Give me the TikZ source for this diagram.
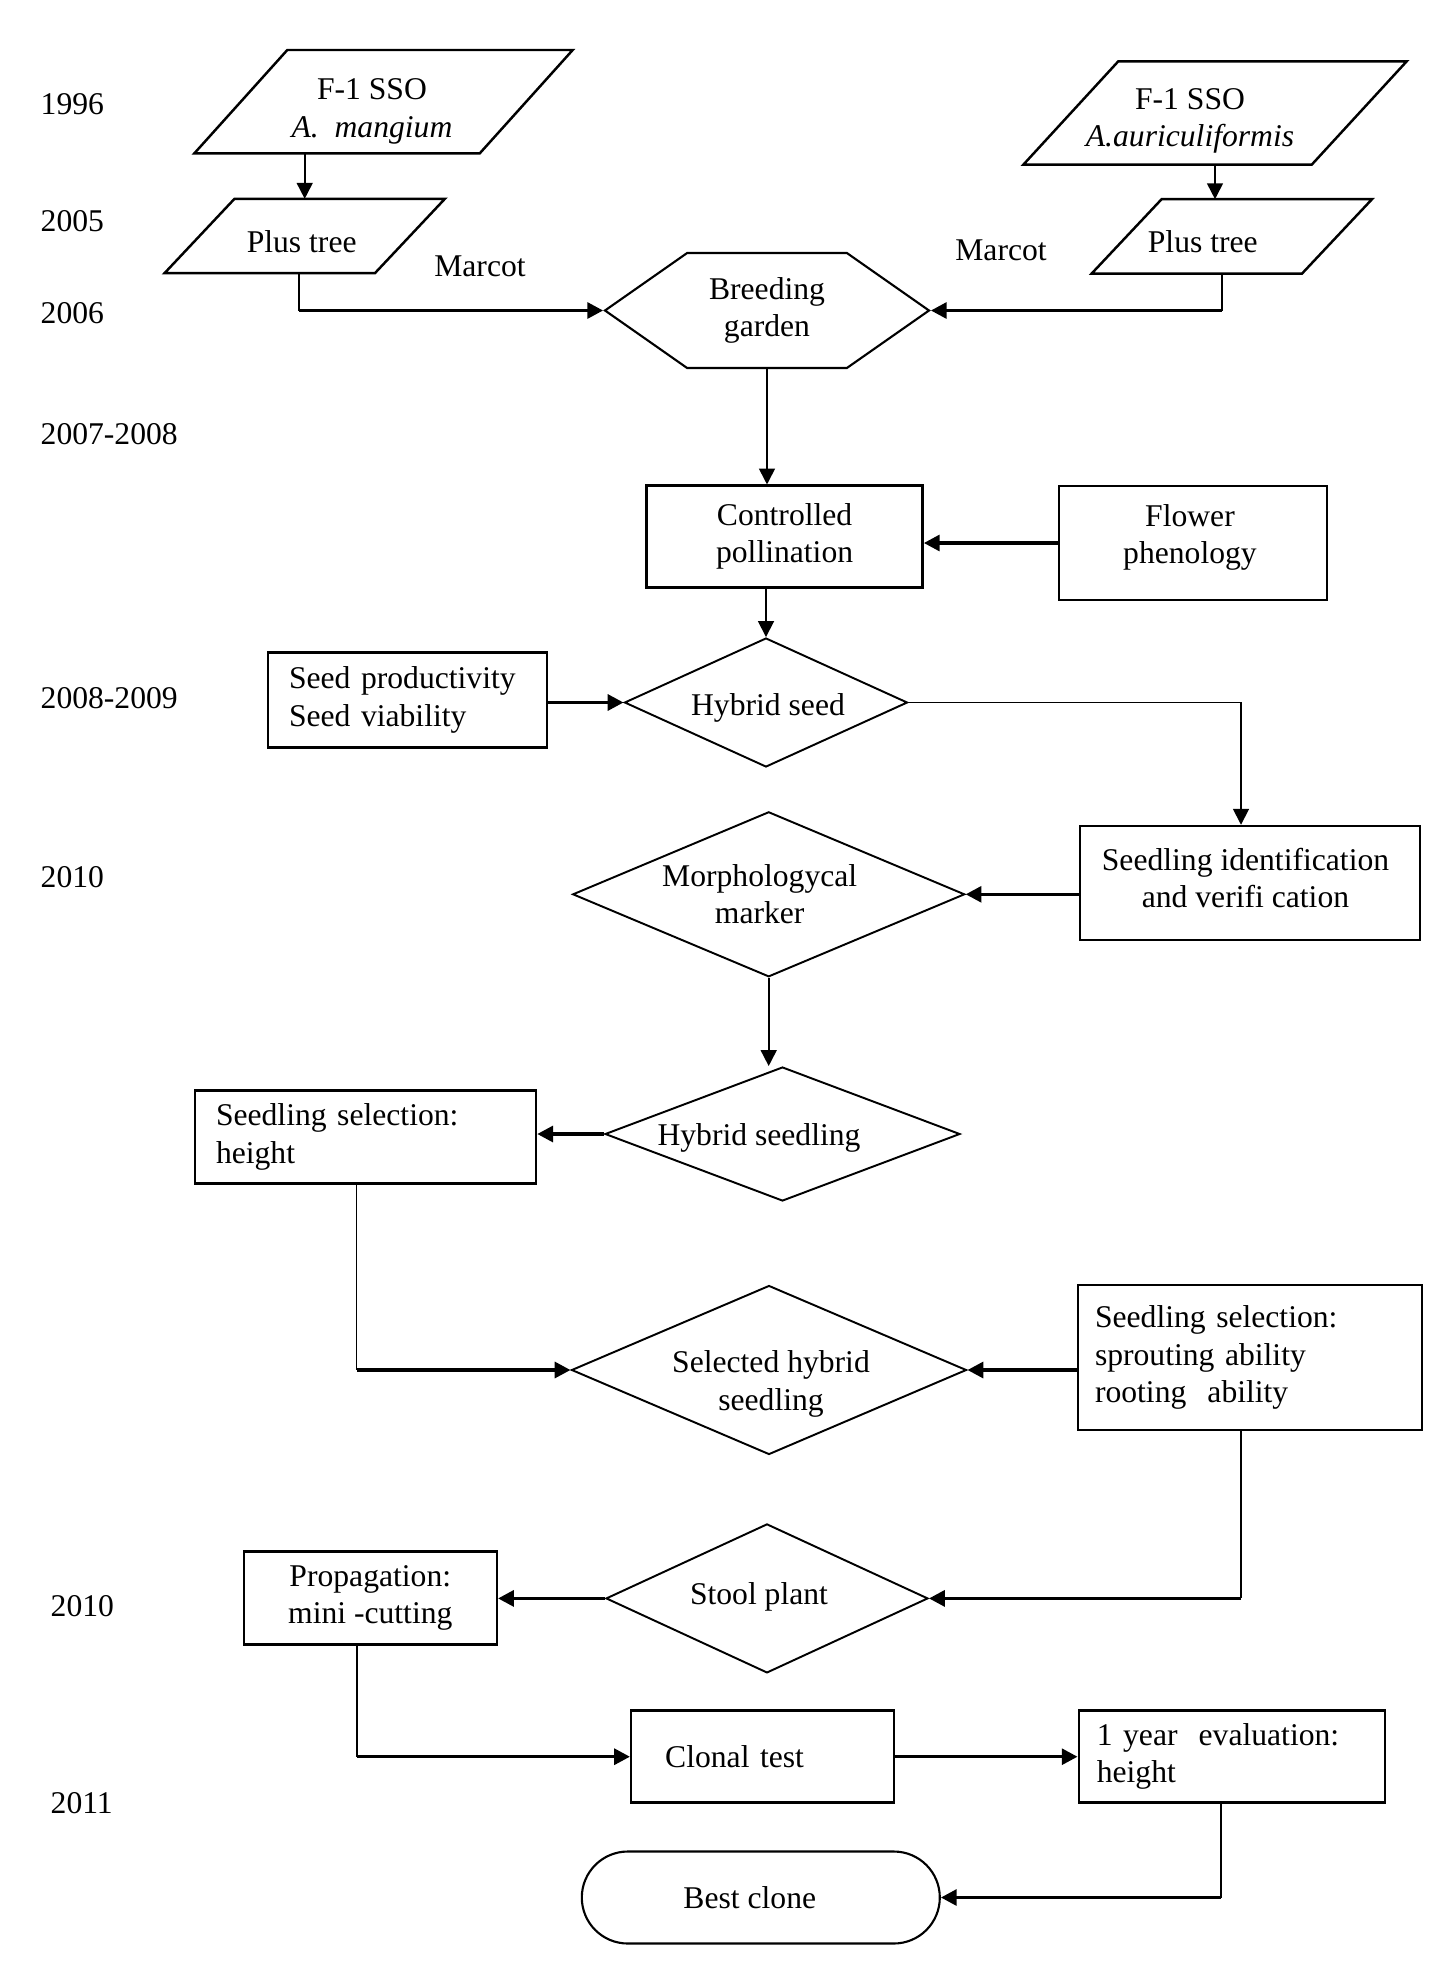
\documentclass[tikz,border=0pt]{standalone}
\usepackage{fontspec}
\setmainfont{Liberation Serif}
\usepackage{tikz}
\usetikzlibrary{shapes.geometric, shapes.symbols, shapes.misc, arrows.meta, positioning, calc}
\tikzset{
  iobox/.style={rectangle, inner sep=0pt, align=center},
  procbox/.style={rectangle, draw, line width=0.7pt, inner sep=0pt, align=center},
  notebox/.style={rectangle, draw, line width=0.7pt, align=left, inner ysep=0pt},
  decision/.style={diamond, draw, line width=0.55pt, inner sep=0pt, align=center},
  hexbox/.style={signal, signal to=east and west, signal pointer angle=70,
    draw, line width=0.6pt, inner sep=0pt, align=center},
  termbox/.style={rounded rectangle, draw, line width=0.6pt, inner sep=0pt},
  inlabel/.style={inner sep=0pt, align=center},
  yearlabel/.style={anchor=west, inner sep=0pt},
  varrow/.style={-{Triangle[length=4.5pt, width=4.5pt]}, line width=0.5pt},
  harrow/.style={-{Triangle[length=4.5pt, width=4.5pt]}, line width=1pt},
  thinline/.style={line width=0.45pt}
}
% slanted frame round a plain node: #1 node name, #2 horizontal slant
\newcommand{\ioframe}[2]{%
  \draw[line width=0.7pt] (#1.south west) -- ($(#1.south east)+(-#2,0)$)
    -- (#1.north east) -- ($(#1.north west)+(#2,0)$) -- cycle;}

\begin{document}
\begin{tikzpicture}[font=\fontsize{9}{10.6}\selectfont]
  \useasboundingbox (0,0) rectangle (14.34,-19.74);
  % ── Year column ────────────────────────────────────────────────
  \node[yearlabel] (y1996) at (0.40,-1.04) {1996};
  \node[yearlabel] (y2005) at (0.40,-2.207) {2005};
  \node[yearlabel] (y2006) at (0.40,-3.13) {2006};
  \node[yearlabel] (y2007) at (0.40,-4.34) {2007-2008};
  \node[yearlabel] (y2008) at (0.40,-6.98) {2008-2009};
  \node[yearlabel] (y2010a) at (0.40,-8.767) {2010};
  \node[yearlabel] (y2010b) at (0.50,-16.06) {2010};
  \node[yearlabel] (y2011) at (0.50,-18.03) {2011};

  % ── Parent stands ─────────────────────────────────────────────
  \node[iobox, minimum width=3.77cm, minimum height=1.02cm] (mang) at (3.835,-1.017) {};
  \ioframe{mang}{0.93}
  \node[inlabel] (mangtext) at ($(mang)+(-0.115,-0.098)$) {F-1 SSO\\\textit{A.\ \ mangium}};
  \node[iobox, minimum width=3.82cm, minimum height=1.02cm] (auri) at (12.15,-1.13) {};
  \ioframe{auri}{0.95}
  \node[inlabel] (auritext) at ($(auri)+(-0.25,-0.078)$) {F-1 SSO\\\textit{A.auriculiformis}};
  \node[iobox, minimum width=2.79cm, minimum height=0.73cm] (plusL) at (3.047,-2.36) {};
  \ioframe{plusL}{0.70}
  \node[inlabel] (plusLtext) at ($(plusL)+(-0.03,-0.057)$) {Plus tree};
  \node[iobox, minimum width=2.79cm, minimum height=0.73cm] (plusR) at (12.318,-2.364) {};
  \ioframe{plusR}{0.70}
  \node[inlabel] (plusRtext) at ($(plusR)+(-0.29,-0.053)$) {Plus tree};
  \node (marcotL) at (4.80,-2.667) {Marcot};
  \node (marcotR) at (10.01,-2.50) {Marcot};
  \node[hexbox, minimum width=3.24cm, minimum height=1.15cm] (breed) at (7.67,-3.105) {Breeding\\garden};

  % ── Crossing ──────────────────────────────────────────────────
  \node[procbox, minimum width=2.76cm, minimum height=1.02cm] (ctrl) at (7.846,-5.367) {Controlled\\pollination};
  \node[procbox, minimum width=2.68cm, minimum height=1.14cm] (flow) at (11.93,-5.43) {};
  \node[inlabel] (flowtext) at ($(flow)+(-0.03,0.055)$) {Flower\\phenology};
  \node[decision, aspect=2.19, minimum width=2.83cm, minimum height=1.29cm] (hseed) at (7.66,-7.025) {};
  \node[inlabel] (hseedtext) at ($(hseed)+(0.02,-0.055)$) {Hybrid seed};
  \node[notebox, text width=2.37cm, inner xsep=0.21cm, minimum height=0.95cm] (sprod) at (4.075,-7.00)
    {Seed productivity\\Seed viability};
  \node[procbox, minimum width=3.40cm, minimum height=1.14cm] (seedid) at (12.50,-8.83) {};
  \node[inlabel] (seedidtext) at ($(seedid)+(-0.045,0.05)$) {Seedling identification\\and verifi cation};
  \node[decision, aspect=2.38, minimum width=3.92cm, minimum height=1.65cm] (morph) at (7.687,-8.943) {};
  \node[inlabel] (morphtext) at ($(morph)+(-0.09,0)$) {Morphologycal\\marker};

  % ── Seedling selection ────────────────────────────────────────
  \node[decision, aspect=2.65, minimum width=3.55cm, minimum height=1.34cm] (hsdl) at (7.825,-11.34) {};
  \node[inlabel] (hsdltext) at ($(hsdl)+(-0.235,-0.04)$) {Hybrid seedling};
  \node[notebox, text width=2.99cm, inner xsep=0.21cm, minimum height=0.93cm] (selh) at (3.655,-11.37)
    {Seedling selection:\\height};
  \node[decision, aspect=2.34, minimum width=3.95cm, minimum height=1.69cm] (selhs) at (7.69,-13.70) {};
  \node[inlabel] (selhstext) at ($(selhs)+(0.02,-0.14)$) {Selected hybrid\\seedling};
  \node[notebox, text width=3.10cm, inner xsep=0.17cm, minimum height=1.45cm] (sprout) at (12.50,-13.575)
    {Seedling selection:\\sprouting ability\\rooting\ \ ability};

  % ── Cloning and test ──────────────────────────────────────────
  \node[decision, aspect=2.16, minimum width=3.22cm, minimum height=1.49cm] (stool) at (7.67,-15.984) {};
  \node[inlabel] (stooltext) at ($(stool)+(-0.08,0.015)$) {Stool plant};
  \node[procbox, minimum width=2.53cm, minimum height=0.93cm] (prop) at (3.703,-15.98) {Propagation:\\mini -cutting};
  \node[notebox, text width=1.95cm, inner xsep=0.34cm, minimum height=0.92cm] (clonal) at (7.627,-17.567) {Clonal test};
  \node[notebox, text width=2.70cm, inner xsep=0.18cm, minimum height=0.92cm] (eval) at (12.318,-17.567)
    {1 year\ \ evaluation:\\height};
  \node[termbox, minimum width=3.58cm, minimum height=0.92cm] (best) at (7.608,-18.975) {};
  \node[inlabel] (besttext) at ($(best)+(-0.11,0)$) {Best clone};

  % ── Connectors (elbow drops sit a little left of box centres) ─
  \draw[varrow] (mang.south -| plusL.north) -- (plusL.north);
  \draw[varrow] (auri.south) -- (auri.south |- plusR.north);
  \coordinate (dropL) at ($(plusL.south)+(-0.055,0)$);
  \coordinate (bendL) at (dropL |- breed.west);
  \draw[thinline] (dropL) -- (bendL);
  \draw[harrow] (bendL) -- (breed.west);
  \coordinate (dropR) at ($(plusR.south)+(-0.10,0)$);
  \coordinate (bendR) at (dropR |- breed.east);
  \draw[thinline] (dropR) -- (bendR);
  \draw[harrow] (bendR) -- (breed.east);
  \draw[varrow] (breed.south) -- (breed.south |- ctrl.north);
  \draw[harrow] (flow.west) -- (flow.west -| ctrl.east);
  \draw[varrow] (ctrl.south -| hseed.north) -- (hseed.north);
  \draw[harrow] (sprod.east |- hseed.west) -- (hseed.west);
  \coordinate (topID) at ($(seedid.north)+(-0.09,0)$);
  \draw[varrow] (hseed.east) -| (topID);
  \draw[harrow] (seedid.west |- morph.east) -- (morph.east);
  \draw[varrow] (morph.south) -- (morph.south |- hsdl.north);
  \draw[harrow] (hsdl.west) -- (hsdl.west -| selh.east);
  \coordinate (dropH) at ($(selh.south)+(-0.09,0)$);
  \coordinate (bendH) at (dropH |- selhs.west);
  \draw[thinline] (dropH) -- (bendH);
  \draw[harrow] (bendH) -- (selhs.west);
  \draw[harrow] (sprout.west |- selhs.east) -- (selhs.east);
  \coordinate (dropS) at ($(sprout.south)+(-0.09,0)$);
  \coordinate (bendS) at (dropS |- stool.east);
  \draw[thinline] (dropS) -- (bendS);
  \draw[harrow] (bendS) -- (stool.east);
  \draw[harrow] (stool.west) -- (stool.west -| prop.east);
  \coordinate (dropP) at ($(prop.south)+(-0.135,0)$);
  \coordinate (bendP) at (dropP |- clonal.west);
  \draw[thinline] (dropP) -- (bendP);
  \draw[harrow] (bendP) -- (clonal.west);
  \draw[harrow] (clonal.east) -- (clonal.east -| eval.west);
  \coordinate (dropE) at ($(eval.south)+(-0.11,0)$);
  \coordinate (bendE) at (dropE |- best.east);
  \draw[thinline] (dropE) -- (bendE);
  \draw[harrow] (bendE) -- (best.east);
\end{tikzpicture}
\end{document}
